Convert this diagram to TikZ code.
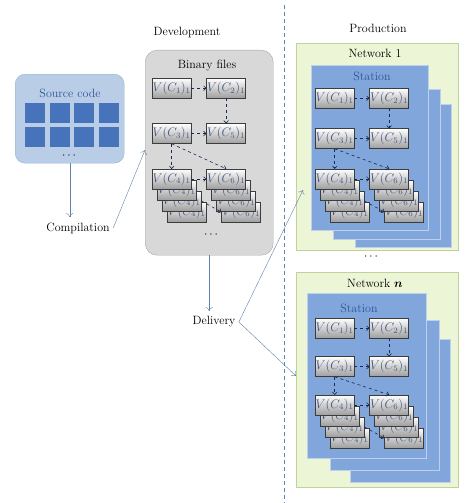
\documentclass[tikz,border=0pt]{standalone}
\usepackage{amsmath}
\usepackage{graphicx}
\usepackage{tikz}
\usetikzlibrary{positioning,arrows.meta}

\definecolor{srcfill}{RGB}{185,205,230}
\definecolor{srcline}{RGB}{150,178,212}
\definecolor{sqfill}{RGB}{70,115,185}
\definecolor{bluetext}{RGB}{45,85,150}
\definecolor{devfill}{RGB}{216,216,216}
\definecolor{devline}{RGB}{165,165,165}
\definecolor{netfill}{RGB}{236,245,214}
\definecolor{netline}{RGB}{190,212,150}
\definecolor{stfill}{RGB}{128,166,220}
\definecolor{stline}{RGB}{190,208,235}
\definecolor{vtext}{RGB}{65,85,125}
\definecolor{vline}{RGB}{60,60,60}
\definecolor{depline}{RGB}{25,40,75}
\definecolor{flowline}{RGB}{95,130,170}

\newcommand{\vname}[1]{\scalebox{1.04}{$V(C_{#1})_1$}}

% one set of binary files: name prefix, top left corner, row gap
\newcommand{\binaryset}[3]{%
\node[vbox, anchor=north west] (#1c1) at (#2) {\vname{1}};
\node[vbox] (#1c2) [right=15pt of #1c1] {\vname{2}};
\node[vbox] (#1c3) [below=#3 of #1c1] {\vname{3}};
\node[vbox] (#1c5) [below=#3 of #1c2] {\vname{5}};
\foreach \k in {3,2,1}{
\node[vbox, xshift=\k*5pt, yshift=-\k*11pt] (#1c4b\k) [below=#3 of #1c3] {\vname{4}};
\node[vbox, xshift=\k*5pt, yshift=-\k*11pt] (#1c6b\k) [below=#3 of #1c5] {\vname{6}};
}
\node[vbox] (#1c4) [below=#3 of #1c3] {\vname{4}};
\node[vbox] (#1c6) [below=#3 of #1c5] {\vname{6}};
\draw[dep](#1c1)--(#1c2);
\draw[dep](#1c2)--(#1c5);
\draw[dep](#1c3)--(#1c5);
\draw[dep](#1c3)--(#1c4);
\draw[dep](#1c3.south)--(#1c6.north);
\draw[dep](#1c4)--(#1c6);
\draw[dep](#1c4b2.east)--(#1c6b3.west);
}

\begin{document}
\begin{tikzpicture}[x=1pt, y=-1pt,
font=\fontsize{12}{14}\selectfont,
srcbox/.style={rectangle, rounded corners=10pt, draw=srcline, fill=srcfill, anchor=north west},
sq/.style={rectangle, fill=sqfill, minimum size=20pt, inner sep=0pt},
devbox/.style={rectangle, rounded corners=12pt, draw=devline, fill=devfill, anchor=north west},
netbox/.style={rectangle, draw=netline, fill=netfill, anchor=north west},
station/.style={draw=stline, fill=stfill},
vbox/.style={rectangle, draw=vline, top color=white, bottom color=black!38, minimum width=39pt, minimum height=20pt, inner sep=0pt, text=vtext, font=\fontsize{12}{13}\selectfont},
blue title/.style={text=bluetext},
dep/.style={-{To[length=3pt,width=5pt]}, dashed, depline, semithick},
flow/.style={-{To[length=4pt,width=7pt]}, flowline},
divider/.style={dashed, flowline, dash pattern=on 4pt off 3pt}]

\useasboundingbox (0,0) rectangle (474,503);

% source code
\node[srcbox, minimum width=109pt, minimum height=89pt] (src) at (15,74) {};
\node[blue title] (srctitle) at (70,93) {Source code};
\foreach \i in {0,...,3}{
\foreach \j in {0,1}{
\node[sq] (sq\i\j) at (35+\i*24.5, 113+\j*24) {};
}}
\node (srcdots) at (70,156) {$\cdots$};
\node (compile) at (78,228) {Compilation};
\draw[flow](src.south)--([yshift=2pt]src.south |- compile.north);

% development
\node (devtitle) at (187,33) {Development};
\node[devbox, minimum width=128pt, minimum height=205pt] (dev) at (145,50) {};
\node (bintitle) at (207,65) {Binary files};
\binaryset{d}{152,78}{25pt}
\node (devdots) at (212,235) {$\cdots$};
\coordinate (devin) at (145,150);
\draw[flow](compile.east)--(devin);
\node (deliv) at (214,322) {Delivery};
\draw[flow](dev.south)--([yshift=2pt]dev.south |- deliv.north);

\draw[divider] (284,5) -- (284,503);

% production
\node (prodtitle) at (378,28) {Production};

\node[netbox, minimum width=162pt, minimum height=207pt] (net1) at (296,43) {};
\node (net1title) at (375,53) {Network 1};
\draw[station] (355,104) rectangle (451,247);
\draw[station] (333,89) rectangle (440,239);
\draw[station] (311,65) rectangle (428,230);
\node[blue title] (st1title) at (372,76) {Station};
\binaryset{a}{315,88}{20pt}

\node (netdots) at (372,257) {$\cdots$};

\node[netbox, minimum width=162pt, minimum height=215pt] (netn) at (296,272) {};
\node (netntitle) at (375,283) {Network $\boldsymbol{n}$};
\draw[station] (350,339) rectangle (450,482);
\draw[station] (330,320) rectangle (439,470);
\draw[station] (307,293) rectangle (426,458);
\node[blue title] (stntitle) at (359,308) {Station};
\binaryset{b}{315,318}{18pt}

\coordinate (net1in) at (303,190);
\coordinate (netnin) at (296,376);
\draw[flow](deliv.east)--(net1in);
\draw[flow](deliv.east)--(netnin);
\end{tikzpicture}
\end{document}
